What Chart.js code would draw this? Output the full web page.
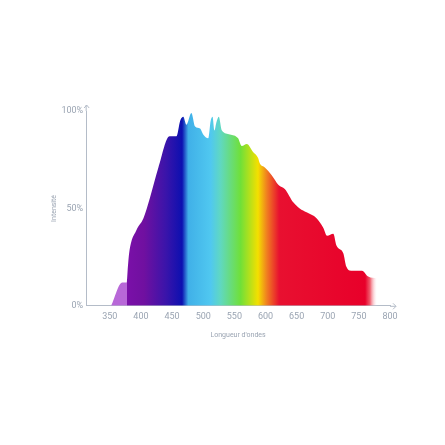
<!DOCTYPE html><html><head><meta charset="utf-8">
<script src="https://cdn.jsdelivr.net/npm/chart.js@4"></script>
<style>html,body{margin:0;background:#fff}#w{width:445px;height:445px}</style></head><body>
<div id="w"><canvas id="c"></canvas></div>
<script>
const wavelengths=[352,370,377,379,381,393,404,414,428,446,457,463,468,473,481,487,495,500,508,512,515,518,521,525,530,543,556,562,570,580,588,591,599,610,621,631,645,655,666,682,693,699,709,714,725,730,738,755,765,779];
const intensity=[0,12,12,20,27,39,45,55,71,87,87,95,97,93,99,92,91,88,86,95,97,90,94,97,90,88,86,82,83,79,76,73,71,67,62,60,53,50,48,45,40,36,37,31,27,20,18,18,15,14];
const xTicks=[350,400,450,500,550,600,650,700,750,800];
const yTicks=[0,50,100];
const gray='#b4bcc8';
const stops=[[377,'#b868d8'],[378,'#7a10a8'],[405,'#7010a0'],[440,'#3a14aa'],[466,'#0c10b0'],[476,'#40b0e8'],[512,'#50c8f0'],[528,'#60d8c0'],[560,'#70e038'],[588,'#f4e000'],[602,'#f08020'],[622,'#e81030'],[760,'#e8002a'],[768,'#f06070'],[780,'rgba(255,255,255,0)']];
const arrows={id:'arrows',afterDraw(ch){const c=ch.ctx,a=ch.chartArea;c.save();c.strokeStyle=gray;c.lineWidth=1;c.beginPath();
c.moveTo(a.left-2,a.top-3);c.lineTo(a.left+0.5,a.top-6);c.lineTo(a.left+3,a.top-3);
c.moveTo(a.right+3,a.bottom-2.5);c.lineTo(a.right+6,a.bottom+0.5);c.lineTo(a.right+3,a.bottom+3.5);
c.moveTo(a.left,a.top-6);c.lineTo(a.left,a.top);c.moveTo(a.right,a.bottom+0.5);c.lineTo(a.right+6,a.bottom+0.5);c.stroke();c.restore();}};
new Chart(document.getElementById('c'),{type:'line',
data:{datasets:[{data:wavelengths.map((x,i)=>({x,y:intensity[i]})),fill:'origin',pointRadius:0,borderWidth:0,tension:0.2,cubicInterpolationMode:'monotone',
backgroundColor(ctx){const ch=ctx.chart,a=ch.chartArea;if(!a)return'#e81030';const s=ch.scales.x;const g=ch.ctx.createLinearGradient(s.getPixelForValue(300),0,s.getPixelForValue(800),0);stops.forEach(([w,col])=>g.addColorStop((w-300)/500,col));return g;}}]},
options:{responsive:true,maintainAspectRatio:false,animation:false,
layout:{padding:{left:50,right:55,top:111,bottom:106}},
plugins:{legend:{display:false},tooltip:{enabled:false}},
scales:{x:{type:'linear',min:312,max:800,afterBuildTicks(s){s.ticks=xTicks.map(v=>({value:v}))},
grid:{display:false,drawTicks:false},border:{color:gray},ticks:{color:'#9aa4b2',font:{size:9,family:'Roboto'},padding:6,maxRotation:0},
title:{display:true,text:"Longueur d'ondes",color:'#9aa4b2',font:{size:7,family:'Roboto'},padding:{top:2,bottom:0}}},
y:{min:0,max:100,afterBuildTicks(s){s.ticks=yTicks.map(v=>({value:v}))},
grid:{display:false,drawTicks:false},border:{color:gray},ticks:{color:'#9aa4b2',font:{size:9,family:'Roboto'},padding:3,callback:v=>v+'%'},
title:{display:true,text:'Intensité',color:'#9aa4b2',font:{size:7,family:'Roboto'},padding:{top:0,bottom:0}}}}},
plugins:[arrows]});
</script></body></html>
